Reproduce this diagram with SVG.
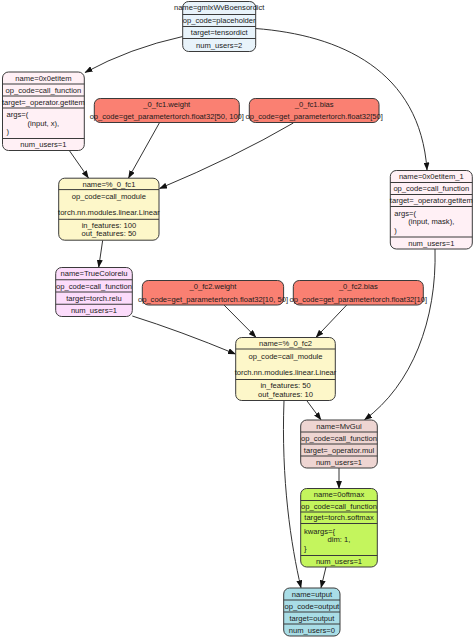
<svg xmlns="http://www.w3.org/2000/svg" width="474" height="639" viewBox="0 0 474 639">
<defs>
<style>
.b{stroke:#3a3a3a;stroke-width:1}
.d{stroke:#3a3a3a;stroke-width:1}
.t{font-family:"Liberation Sans",Arial,sans-serif;font-size:7.6px;fill:#1a1a1a;text-anchor:middle}
.l{text-anchor:start}
.e{fill:none;stroke:#333;stroke-width:1;marker-end:url(#arr)}
.ph{fill:#e8f3fa}.gi{fill:#fff0f5}.pa{fill:#fa8072}.mo{fill:#fdf7c9}.re{fill:#fcdcfb}.mu{fill:#eed5d2}.sm{fill:#c4f55d}.ou{fill:#a9dde6}
</style>
<marker id="arr" markerWidth="8" markerHeight="6" refX="7.5" refY="3" orient="auto" markerUnits="userSpaceOnUse"><path d="M0,0 L8,3 L0,6 z" fill="#111"/></marker>
</defs>
<g id="connectors">
<path class="e" d="M182.7,36.5 Q130,48 85,72.5"/>
<path class="e" d="M255.5,28.5 C340,35 420,70 427,170"/>
<path class="e" d="M69.3,150.5 L88.5,178"/>
<path class="e" d="M159.3,123 L128.5,178"/>
<path class="e" d="M293.3,123 Q235,157 159.5,188.5"/>
<path class="e" d="M102.7,240.2 L98.7,267.3"/>
<path class="e" d="M224,305 L256,337.3"/>
<path class="e" d="M346.7,305 L316,337.3"/>
<path class="e" d="M132.3,316 Q180,331 235.5,354"/>
<path class="e" d="M435,249 C437,320 412,385 364.5,419.8"/>
<path class="e" d="M306.7,400.5 L321,419.8"/>
<path class="e" d="M284,400.5 C281,480 291,545 301,587.8"/>
<path class="e" d="M339,468 L339,488.3"/>
<path class="e" d="M326,567 L321,587.8"/>
</g>
<g id="placeholder">
<rect class="b ph" x="182.7" y="1.5" width="73" height="50" rx="6"/>
<line class="d" x1="182.7" y1="14.5" x2="255.7" y2="14.5"/>
<line class="d" x1="182.7" y1="26.5" x2="255.7" y2="26.5"/>
<line class="d" x1="182.7" y1="38.5" x2="255.7" y2="38.5"/>
<text class="t" x="219.2" y="10.3">name=gmlxWvBoensordict</text>
<text class="t" x="219.2" y="23.1">op_code=placeholder</text>
<text class="t" x="219.2" y="35.1">target=tensordict</text>
<text class="t" x="219.2" y="47.6">num_users=2</text>
</g>
<g id="getitem">
<rect class="b gi" x="2.5" y="72" width="81.8" height="78.5" rx="6"/>
<line class="d" x1="2.5" y1="84" x2="84.3" y2="84"/>
<line class="d" x1="2.5" y1="96" x2="84.3" y2="96"/>
<line class="d" x1="2.5" y1="108" x2="84.3" y2="108"/>
<line class="d" x1="2.5" y1="138.5" x2="84.3" y2="138.5"/>
<text class="t" x="43.4" y="80.6">name=0x0etitem</text>
<text class="t" x="43.4" y="92.6">op_code=call_function</text>
<text class="t" x="43.4" y="104.6">target=_operator.getitem</text>
<text class="t l" x="6.5" y="117.4">args=(</text>
<text class="t" x="43.4" y="125.9">(input, x),</text>
<text class="t l" x="6.5" y="134.4">)</text>
<text class="t" x="43.4" y="147.1">num_users=1</text>
</g>
<g id="fc1_weight">
<rect class="b pa" x="94.3" y="98.5" width="145" height="24" rx="6"/>
<text class="t" x="166.8" y="106.9">_0_fc1.weight</text>
<text class="t" x="166.8" y="119.4">op_code=get_parametertorch.float32[50, 100]</text>
</g>
<g id="fc1_bias">
<rect class="b pa" x="249.3" y="98.5" width="129.7" height="24" rx="6"/>
<text class="t" x="314.2" y="106.9">_0_fc1.bias</text>
<text class="t" x="314.2" y="119.4">op_code=get_parametertorch.float32[50]</text>
</g>
<g id="fc1">
<rect class="b mo" x="58.7" y="178.2" width="100.3" height="62" rx="6"/>
<line class="d" x1="58.7" y1="189.6" x2="159" y2="189.6"/>
<line class="d" x1="58.7" y1="219.3" x2="159" y2="219.3"/>
<text class="t" x="108.9" y="186.5">name=%_0_fc1</text>
<text class="t" x="108.9" y="198.7">op_code=call_module</text>
<text class="t" x="108.9" y="215.4">torch.nn.modules.linear.Linear</text>
<text class="t" x="108.9" y="227.6">in_features: 100</text>
<text class="t" x="108.9" y="235.9">out_features: 50</text>
</g>
<g id="getitem_1">
<rect class="b gi" x="390.3" y="170.5" width="82" height="78.5" rx="6"/>
<line class="d" x1="390.3" y1="182.5" x2="472.3" y2="182.5"/>
<line class="d" x1="390.3" y1="194.5" x2="472.3" y2="194.5"/>
<line class="d" x1="390.3" y1="206.5" x2="472.3" y2="206.5"/>
<line class="d" x1="390.3" y1="237" x2="472.3" y2="237"/>
<text class="t" x="431.3" y="179.1">name=0x0etitem_1</text>
<text class="t" x="431.3" y="191.1">op_code=call_function</text>
<text class="t" x="431.3" y="203.1">target=_operator.getitem</text>
<text class="t l" x="394.3" y="215.9">args=(</text>
<text class="t" x="431.3" y="224.4">(input, mask),</text>
<text class="t l" x="394.3" y="232.9">)</text>
<text class="t" x="431.3" y="245.6">num_users=1</text>
</g>
<g id="relu">
<rect class="b re" x="55.7" y="267.5" width="76.6" height="49" rx="6"/>
<line class="d" x1="55.7" y1="279.75" x2="132.3" y2="279.75"/>
<line class="d" x1="55.7" y1="292" x2="132.3" y2="292"/>
<line class="d" x1="55.7" y1="304.25" x2="132.3" y2="304.25"/>
<text class="t" x="94" y="276.3">name=TrueColorelu</text>
<text class="t" x="94" y="288.5">op_code=call_function</text>
<text class="t" x="94" y="300.7">target=torch.relu</text>
<text class="t" x="94" y="313">num_users=1</text>
</g>
<g id="fc2_weight">
<rect class="b pa" x="142.3" y="280.5" width="141.3" height="24.5" rx="6"/>
<text class="t" x="213" y="288.8">_0_fc2.weight</text>
<text class="t" x="213" y="301.5">op_code=get_parametertorch.float32[10, 50]</text>
</g>
<g id="fc2_bias">
<rect class="b pa" x="293.3" y="280.5" width="130" height="24.5" rx="6"/>
<text class="t" x="358.3" y="288.8">_0_fc2.bias</text>
<text class="t" x="358.3" y="301.5">op_code=get_parametertorch.float32[10]</text>
</g>
<g id="fc2">
<rect class="b mo" x="235.7" y="337.5" width="99.6" height="63" rx="6"/>
<line class="d" x1="235.7" y1="349" x2="335.3" y2="349"/>
<line class="d" x1="235.7" y1="379.5" x2="335.3" y2="379.5"/>
<text class="t" x="285.5" y="345.9">name=%_0_fc2</text>
<text class="t" x="285.5" y="358.5">op_code=call_module</text>
<text class="t" x="285.5" y="375.2">torch.nn.modules.linear.Linear</text>
<text class="t" x="285.5" y="388.4">in_features: 50</text>
<text class="t" x="285.5" y="396.8">out_features: 10</text>
</g>
<g id="mul">
<rect class="b mu" x="300.7" y="420" width="76.6" height="48" rx="6"/>
<line class="d" x1="300.7" y1="432" x2="377.3" y2="432"/>
<line class="d" x1="300.7" y1="444" x2="377.3" y2="444"/>
<line class="d" x1="300.7" y1="456" x2="377.3" y2="456"/>
<text class="t" x="339" y="428.6">name=MvGul</text>
<text class="t" x="339" y="440.6">op_code=call_function</text>
<text class="t" x="339" y="452.6">target=_operator.mul</text>
<text class="t" x="339" y="464.6">num_users=1</text>
</g>
<g id="softmax">
<rect class="b sm" x="300.7" y="488.5" width="76.6" height="78.5" rx="6"/>
<line class="d" x1="300.7" y1="500.5" x2="377.3" y2="500.5"/>
<line class="d" x1="300.7" y1="512" x2="377.3" y2="512"/>
<line class="d" x1="300.7" y1="523.5" x2="377.3" y2="523.5"/>
<line class="d" x1="300.7" y1="555.5" x2="377.3" y2="555.5"/>
<text class="t" x="339" y="497.1">name=0oftmax</text>
<text class="t" x="339" y="508.9">op_code=call_function</text>
<text class="t" x="339" y="520.4">target=torch.softmax</text>
<text class="t l" x="304" y="533.6">kwargs={</text>
<text class="t" x="339" y="542.1">dim: 1,</text>
<text class="t l" x="304" y="550.6">}</text>
<text class="t" x="339" y="563.9">num_users=1</text>
</g>
<g id="output">
<rect class="b ou" x="283.7" y="588" width="56.3" height="48" rx="6"/>
<line class="d" x1="283.7" y1="600" x2="340" y2="600"/>
<line class="d" x1="283.7" y1="612" x2="340" y2="612"/>
<line class="d" x1="283.7" y1="624" x2="340" y2="624"/>
<text class="t" x="311.9" y="596.6">name=utput</text>
<text class="t" x="311.9" y="608.6">op_code=output</text>
<text class="t" x="311.9" y="620.6">target=output</text>
<text class="t" x="311.9" y="632.6">num_users=0</text>
</g>
</svg>
